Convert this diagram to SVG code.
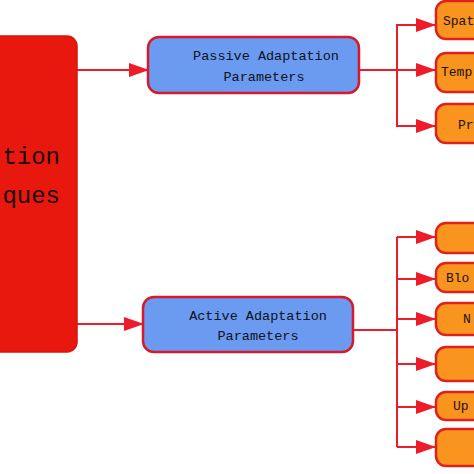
<svg xmlns="http://www.w3.org/2000/svg" width="474" height="474" viewBox="0 0 474 474">
<defs>
<marker id="ah" markerWidth="20" markerHeight="14" refX="19" refY="7" orient="auto" markerUnits="userSpaceOnUse">
<path d="M0,0 L20,7 L0,14 Z" fill="#ec1c2a"/>
</marker>
<style>
.edge{stroke:#ec1c2a;stroke-width:2;fill:none}
.main{fill:#e8180f;stroke:#d8140c;stroke-width:1.5}
.blue{fill:#6a9bf0;stroke:#d8182c;stroke-width:2.5}
.orange{fill:#f9941e;stroke:#e0201c;stroke-width:2.5}
.t{font-family:"Liberation Mono","DejaVu Sans Mono",monospace;fill:#101020}
.tm{font-family:"Liberation Mono","DejaVu Sans Mono",monospace;fill:#1a0808;font-size:24px}
.tb{font-size:13.5px;text-anchor:middle}
.to{font-size:13px;fill:#201008}
</style>
</defs>
<rect width="474" height="474" fill="#ffffff"/>
<g id="connectors">
<line class="edge" x1="77" y1="70" x2="148" y2="70" marker-end="url(#ah)"/>
<line class="edge" x1="77" y1="324" x2="143" y2="324" marker-end="url(#ah)"/>
<line class="edge" x1="359" y1="70" x2="435" y2="70" marker-end="url(#ah)"/>
<polyline class="edge" points="435,25 397,25 397,126 435,126" marker-end="url(#ah)"/>
<line class="edge" x1="397" y1="25" x2="435" y2="25" marker-end="url(#ah)"/>
<line class="edge" x1="353" y1="330" x2="397" y2="330"/>
<line class="edge" x1="397" y1="237" x2="397" y2="447"/>
<line class="edge" x1="397" y1="237" x2="435" y2="237" marker-end="url(#ah)"/>
<line class="edge" x1="397" y1="279" x2="435" y2="279" marker-end="url(#ah)"/>
<line class="edge" x1="397" y1="319" x2="435" y2="319" marker-end="url(#ah)"/>
<line class="edge" x1="397" y1="364" x2="435" y2="364" marker-end="url(#ah)"/>
<line class="edge" x1="397" y1="407" x2="435" y2="407" marker-end="url(#ah)"/>
<line class="edge" x1="397" y1="447" x2="435" y2="447" marker-end="url(#ah)"/>
</g>
<g id="main">
<rect class="main" x="-20" y="36" width="97" height="316" rx="10"/>
<text class="tm" x="60" y="164" text-anchor="end">tion</text>
<text class="tm" x="60" y="203" text-anchor="end">ques</text>
</g>
<g id="passive">
<rect class="blue" x="148" y="37" width="211" height="56" rx="11"/>
<text class="t tb" x="266" y="60">Passive Adaptation</text>
<text class="t tb" x="264" y="81">Parameters</text>
</g>
<g id="active">
<rect class="blue" x="143" y="297" width="210" height="55" rx="11"/>
<text class="t tb" x="258" y="320">Active Adaptation</text>
<text class="t tb" x="258" y="340">Parameters</text>
</g>
<g id="spatial">
<rect class="orange" x="436" y="1" width="60" height="38" rx="10"/>
<text class="t to" x="443" y="25">Spat</text>
</g>
<g id="temporal">
<rect class="orange" x="436" y="53" width="60" height="39" rx="10"/>
<text class="t to" x="441" y="76">Temp</text>
</g>
<g id="pr">
<rect class="orange" x="436" y="104" width="60" height="39" rx="10"/>
<text class="t to" x="458" y="129">Pr</text>
</g>
<g id="a1">
<rect class="orange" x="436" y="223" width="60" height="30" rx="10"/>
</g>
<g id="blo">
<rect class="orange" x="436" y="263" width="60" height="29" rx="10"/>
<text class="t to" x="446" y="282">Blo</text>
</g>
<g id="n">
<rect class="orange" x="436" y="303" width="60" height="32" rx="10"/>
<text class="t to" x="463" y="323">N</text>
</g>
<g id="a4">
<rect class="orange" x="436" y="347" width="60" height="34" rx="10"/>
</g>
<g id="up">
<rect class="orange" x="436" y="392" width="60" height="28" rx="10"/>
<text class="t to" x="453" y="410">Up</text>
</g>
<g id="a6">
<rect class="orange" x="436" y="429" width="60" height="37" rx="10"/>
</g>
</svg>
